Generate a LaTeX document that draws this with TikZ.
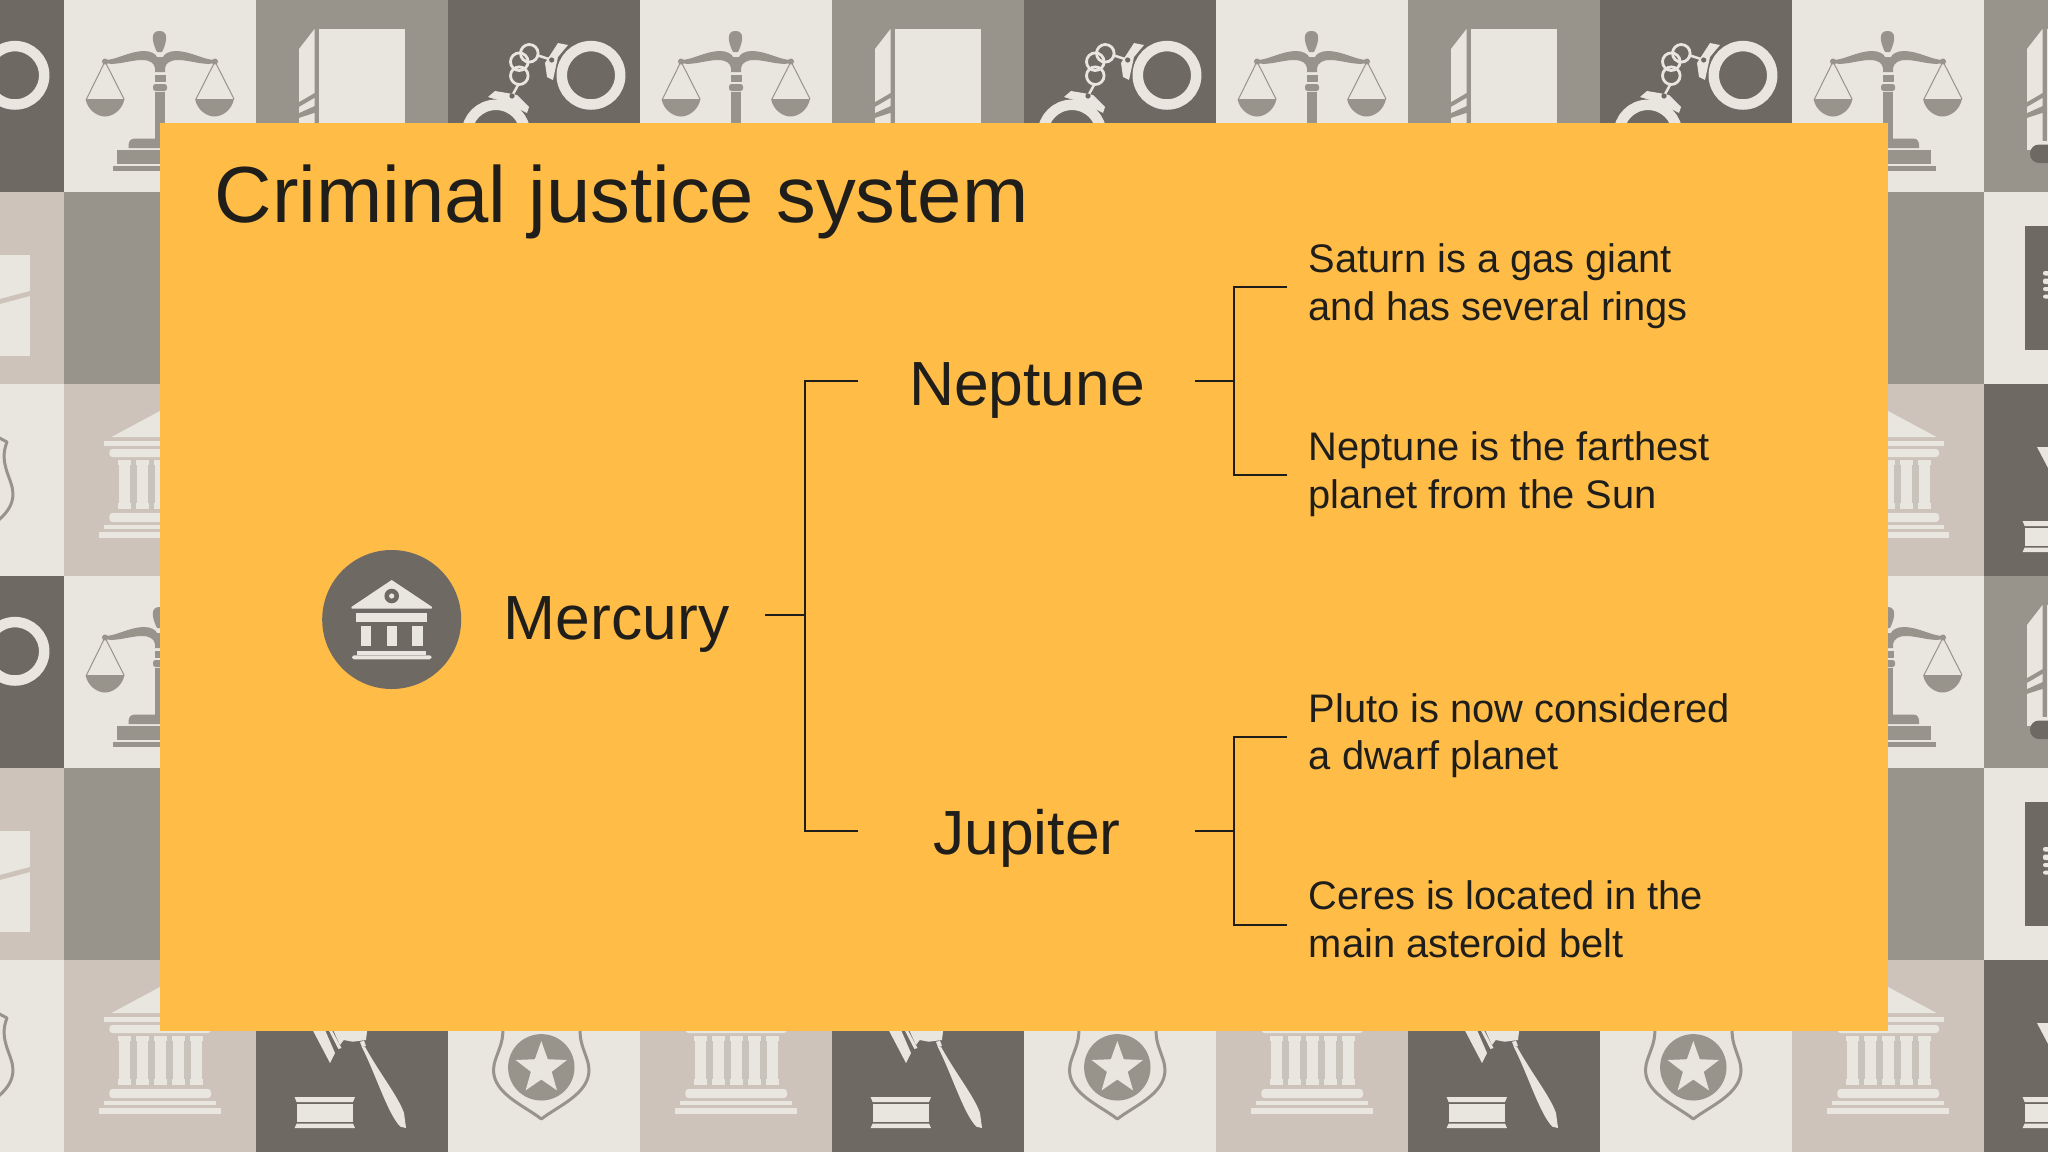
\documentclass[tikz,border=0pt]{standalone}
\usepackage{fontspec}
\setmainfont{Liberation Sans}
\definecolor{tdark}{HTML}{6F6964}
\definecolor{tmid}{HTML}{98938B}
\definecolor{tbeige}{HTML}{CDC3BB}
\definecolor{tlight}{HTML}{E9E5DF}
\definecolor{tshade}{HTML}{C8C4BB}
\definecolor{panel}{HTML}{FFBC47}
\definecolor{ink}{HTML}{1F1E1A}
\tikzset{
  wire/.style={draw=ink,line width=2pt},
  titlenode/.style={inner sep=0pt,text=ink,font=\fontsize{79.6pt}{90pt}\selectfont},
  mainnode/.style={inner sep=0pt,text=ink,text height=58pt,text depth=9.4pt,font=\fontsize{62.4pt}{70pt}\selectfont},
  leafnode/.style={inner xsep=21.6pt,inner ysep=0pt,text=ink,text width=440pt,align=flush left,font=\fontsize{39.85pt}{47.7pt}\selectfont},
  badgecircle/.style={circle,fill=tdark,minimum size=139pt,inner sep=0pt},
}
\newcommand{\lineprop}{\rule[-14.6pt]{0pt}{47.5pt}}
% ---- tile icons, drawn in a 192 x 192 tile
\newcommand{\iconscales}{%
  \fill[tlight] (0,0) rectangle (192,192);
  \begin{scope}[tmid]
  \fill (95.5,31) .. controls (86,31) and (88,42) .. (93,52) -- (98,52) .. controls (103,42) and (105,31) .. (95.5,31) -- cycle;
  \fill (91,72) -- (91,68) .. controls (90,63) and (86,60) .. (78,60) .. controls (66,60) and (52,66) .. (41,63) -- (41,60) .. controls (52,60) and (66,51) .. (80,51) .. controls (87,51) and (92,54) .. (93,57) -- (99,57) .. controls (100,54) and (105,51) .. (112,51) .. controls (126,51) and (140,60) .. (151,60) -- (151,63) .. controls (140,66) and (126,60) .. (114,60) .. controls (106,60) and (102,63) .. (101,68) -- (101,72) -- cycle;
  \fill (90.5,75) rectangle (101.5,82);
  \fill[rounded corners=2.5pt] (89,84) rectangle (103,91);
  \fill (91,92) rectangle (101,140);
  \fill (41,61.5) circle (3);
  \fill (151,61.5) circle (3);
  \draw[line width=1pt] (22.5,99) -- (41,61.5) -- (60,99);
  \draw[line width=1pt] (132,99) -- (151,61.5) -- (170,99);
  \fill (21.5,99) .. controls (24,111) and (34,116.5) .. (41,116.5) .. controls (48,116.5) and (58,111) .. (60.5,99) -- cycle;
  \fill (131,99) .. controls (133.5,111) and (143.5,116.5) .. (150.5,116.5) .. controls (157.5,116.5) and (167.5,111) .. (170,99) -- cycle;
  \fill (64.6,148) -- (64.6,145) .. controls (64.6,141) and (67,138.5) .. (71,138.5) -- (121,138.5) .. controls (125,138.5) and (127,141) .. (127,145) -- (127,148) -- cycle;
  \fill (53,150) rectangle (139,164);
  \fill (48.5,166) rectangle (143.5,171);
  \end{scope}}
\newcommand{\iconbook}{%
  \fill[tmid] (0,0) rectangle (192,192);
  \fill[tlight] (62.5,29) rectangle (149,142);
  \fill[tlight] (43,49) -- (58.5,29) -- (58.5,93) -- (43,102) -- cycle;
  \fill[tlight] (43,107) -- (58.5,98) -- (58.5,106) -- (43,113) -- cycle;
  \fill[tlight] (43,118) -- (58.5,113) -- (58.5,142) -- (43,147) -- cycle;
  \fill[tlight] (43,147) .. controls (44,143) and (47,141) .. (52,141) -- (150,141) -- (150,146) -- (43,150) -- cycle;
  \fill[tdark,rounded corners=9pt] (46,144.5) rectangle (150,163);}
\newcommand{\iconcuffs}{%
  \fill[tdark] (0,0) rectangle (192,192);
  \begin{scope}[tlight]
  \draw[line width=10.5pt] (143,75.3) circle (29.2);
  \draw[line width=10.5pt] (48,134) circle (29.2);
  \draw[line width=2.8pt] (81.3,53.3) circle (8.8);
  \draw[line width=2.8pt] (71.3,61.7) circle (8.8);
  \draw[line width=2.8pt] (71.3,75.7) circle (8.8);
  \draw[line width=2.5pt] (90,55.5) -- (104,60);
  \draw[line width=2.5pt] (70,85) -- (64,96);
  \fill (110,43) -- (120,45) -- (110,57) -- (105,80) -- (99,77) -- (97,63) -- cycle;
  \fill (40,97) -- (47,91) -- (59,93) -- (69,95) -- (81,107) -- (79,113) -- (67,107) -- (50,100) -- cycle;
  \end{scope}
  \fill[tdark] (103.7,60) circle (2.6);
  \fill[tdark] (64,96) circle (2.6);}
\newcommand{\iconplain}{\fill[tmid] (0,0) rectangle (192,192);}
\newcommand{\icondarkrect}{%
  \fill[tlight] (0,0) rectangle (192,192);
  \fill[tdark] (41,34) rectangle (151,158);
  \begin{scope}[tlight]
  \fill[rounded corners=2pt] (59,79) rectangle (72,83.5);
  \fill[rounded corners=2pt] (59,86.6) rectangle (72,92);
  \fill[rounded corners=2pt] (59,95) rectangle (72,99);
  \fill[rounded corners=2pt] (59,102.7) rectangle (72,106.5);
  \end{scope}}
\newcommand{\iconlightrect}{%
  \fill[tbeige] (0,0) rectangle (192,192);
  \fill[tlight] (60,63) rectangle (158,164);
  \fill[tbeige] (60,125) -- (158,99) -- (158,104) -- (60,130) -- cycle;}
\newcommand{\icontemple}{%
  \fill[tbeige] (0,0) rectangle (192,192);
  \fill[tshade] (60,76) rectangle (132,125);
  \begin{scope}[tlight]
  \fill (47.5,53) -- (96,27) -- (144.5,53) -- cycle;
  \fill (40,57) rectangle (152,62);
  \fill[rounded corners=3pt] (45.4,65) rectangle (147,73);
  \foreach \px in {60,78,96,114,132}{
    \fill (\px-6.5,76) rectangle (\px+6.5,81);
    \fill (\px-5.5,81) rectangle (\px+5.5,119);
    \fill (\px-6.5,119) rectangle (\px+6.5,125);
  }
  \fill[rounded corners=3pt] (45.4,129) rectangle (147,138);
  \fill (40,141) rectangle (152,145);
  \fill (35,148) rectangle (157,154);
  \end{scope}}
\newcommand{\icongavel}{%
  \fill[tdark] (0,0) rectangle (192,192);
  \begin{scope}[tlight]
  \fill (38.6,137) -- (99,137) -- (97,142) -- (40.6,142) -- cycle;
  \fill (41,144) rectangle (97,162);
  \fill (40.6,163.5) -- (97,163.5) -- (99,168) -- (38.6,168) -- cycle;
  \fill (53,63) -- (66,63) -- (79,93) -- (74,103) -- cycle;
  \fill (69,63) -- (72,63) -- (85.5,88) -- (82.4,89) -- cycle;
  \fill (74,63) -- (112,63) -- (110,80) -- (96.7,81.7) -- (87.7,80) -- (84,85) -- cycle;
  \fill (104,82) -- (108,80.5) -- (110,86) -- (106,87) -- cycle;
  \fill (105.6,86.7) -- (109,86.7) .. controls (124,114) and (142,136) .. (148,153) -- (150,168) -- (144.5,166.7) .. controls (132,155) and (119,112) .. (105.6,86.7) -- cycle;
  \end{scope}}
\newcommand{\iconbadge}{%
  \fill[tlight] (0,0) rectangle (192,192);
  \draw[tmid,line width=3pt,line join=round] (93.3,159) .. controls (110,146) and (141,134) .. (141,110) .. controls (141,95) and (126,80) .. (135,58) .. controls (120,50) and (105,42) .. (93.3,30) .. controls (82,42) and (67,50) .. (52,58) .. controls (61,80) and (45.5,95) .. (45.5,110) .. controls (45.5,134) and (77,146) .. (93.3,159) -- cycle;
  \fill[tmid] (93.3,107.3) circle (33.2);
  \fill[tlight] (93.3,81) -- (99.7,99.2) -- (119,100) -- (103.7,111.8) -- (109,130.4) -- (93.3,119.5) -- (77.6,130.4) -- (82.9,111.8) -- (67.6,100) -- (86.9,99.2) -- cycle;}
\newcommand{\tileat}[3]{\begin{scope}[shift={(#1,#2)}]#3\end{scope}}
\newcommand{\tileblock}[2]{%
  \begin{scope}[shift={(#1,#2)}]
  \tileat{0}{0}{\iconscales}
  \tileat{192}{0}{\iconbook}
  \tileat{384}{0}{\iconcuffs}
  \tileat{0}{192}{\iconplain}
  \tileat{192}{192}{\icondarkrect}
  \tileat{384}{192}{\iconlightrect}
  \tileat{0}{384}{\icontemple}
  \tileat{192}{384}{\icongavel}
  \tileat{384}{384}{\iconbadge}
  \end{scope}}
\begin{document}
\begin{tikzpicture}[x=1pt,y=-1pt]
\useasboundingbox (0,0) rectangle (2048,1152);
\begin{scope}
  \clip (0,0) rectangle (2048,1152);
  \foreach \bx in {-512,64,640,1216,1792}{
    \foreach \by in {0,576}{
      \tileblock{\bx}{\by}
    }
  }
\end{scope}
\fill[panel] (160,123) rectangle (1888,1031);

\node[titlenode,anchor=base west] (title) at (214.5,222) {Criminal justice system};

\node[badgecircle] (icon) at (391.7,619.5) {};
\begin{scope}[shift={(391.7,619.5)},tlight]
  \fill[line join=round] (0,-39.5) -- (40,-12.8) .. controls (41,-11.5) and (40.5,-10.8) .. (39,-10.8) -- (-39,-10.8) .. controls (-40.5,-10.8) and (-41,-11.5) .. (-40,-12.8) -- cycle;
  \fill[tdark] (0,-23.5) circle (7.3);
  \fill[tlight] (0,-23.5) circle (2.6);
  \fill (-35.7,-6.8) rectangle (35.3,2.2);
  \fill (-30.7,6.8) rectangle (-20.4,26.2);
  \fill (-4.7,6.8) rectangle (5.3,26.2);
  \fill (20.6,6.8) rectangle (31,26.2);
  \fill (-34.4,31.2) rectangle (34.3,35.8);
  \fill[rounded corners=1.8pt] (-39.7,35.8) rectangle (40,39.8);
\end{scope}

\node[mainnode,anchor=west,text width=261.3pt,align=left] (mercury) at (503.7,615.2) {Mercury};
\node[mainnode,anchor=center,minimum width=336.7pt,align=center] (neptune) at (1026.4,381) {\hspace*{1.2pt}Neptune};
\node[mainnode,anchor=center,minimum width=336.7pt,align=center] (jupiter) at (1026.4,830.5) {\hspace*{1.2pt}Jupiter};

\node[leafnode,anchor=west] (saturnleaf) at (1287,287.3) {\lineprop Saturn is a gas giant\\\lineprop and has several rings};
\node[leafnode,anchor=west] (neptuneleaf) at (1287,475.3) {\lineprop Neptune is the farthest\\\lineprop planet from the Sun};
\node[leafnode,anchor=west] (plutoleaf) at (1287,736.8) {\lineprop Pluto is now considered\\\lineprop a dwarf planet};
\node[leafnode,anchor=west] (ceresleaf) at (1287,924.5) {\lineprop Ceres is located in the\\\lineprop main asteroid belt};

\coordinate (jm) at (805,615.2);
\coordinate (jn) at (1234,381);
\coordinate (jj) at (1234,830.5);
\draw[wire] (mercury.east) -- (jm);
\draw[wire] (neptune.west) -| (jm);
\draw[wire] (jupiter.west) -| (jm);
\draw[wire] (neptune.east) -- (jn);
\draw[wire] (saturnleaf.west) -| (jn);
\draw[wire] (neptuneleaf.west) -| (jn);
\draw[wire] (jupiter.east) -- (jj);
\draw[wire] (plutoleaf.west) -| (jj);
\draw[wire] (ceresleaf.west) -| (jj);
\end{tikzpicture}
\end{document}
